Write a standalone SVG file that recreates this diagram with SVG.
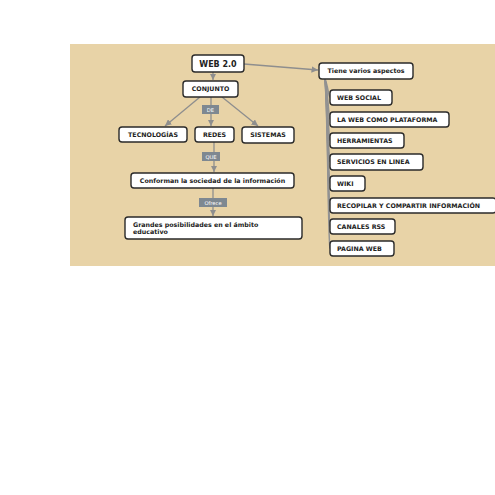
<svg xmlns="http://www.w3.org/2000/svg" width="495" height="495" viewBox="0 0 495 495">
<style>
.bg{fill:#e8d3a7}
.box{fill:#ffffff;stroke:#2a2a2a;stroke-width:1.4}
.t{font-family:"DejaVu Sans",Verdana,sans-serif;font-weight:bold;font-size:6.3px;fill:#222}
.big{font-size:8px}
.lbl{fill:#7e8891}
.lt{font-family:"DejaVu Sans",Verdana,sans-serif;font-size:5.2px;fill:#ffffff}
.c{fill:none;stroke:#8e8e8e;stroke-width:1.3}
.v{fill:none;stroke:#929292;stroke-width:1.5}
</style>
<defs>
<marker id="ah" viewBox="0 0 10 10" refX="10" refY="5" markerWidth="5" markerHeight="5" orient="auto">
<path d="M0,0 L10,5 L0,10 z" fill="#8e8e8e"/>
</marker>
</defs>
<rect class="bg" x="70" y="44" width="425" height="222"/>
<g id="connectors">
<line class="c" x1="244" y1="64" x2="318" y2="70" marker-end="url(#ah)"/>
<line class="c" x1="213" y1="72" x2="213" y2="80" marker-end="url(#ah)"/>
<line class="c" x1="200" y1="97" x2="165" y2="126" marker-end="url(#ah)"/>
<line class="c" x1="211" y1="97" x2="211" y2="126" marker-end="url(#ah)"/>
<line class="c" x1="222" y1="97" x2="258" y2="126" marker-end="url(#ah)"/>
<line class="c" x1="214" y1="142" x2="214" y2="172" marker-end="url(#ah)"/>
<line class="c" x1="213" y1="188" x2="213" y2="216" marker-end="url(#ah)"/>
<path class="v" d="M325,79 C328,86 328,94 330,97.5"/>
<path class="v" d="M325,79 C328,90 328,112 330,119.5"/>
<path class="v" d="M325,79 C328,95 328,133 330,140.5"/>
<path class="v" d="M325,79 C328,100 328,155 330,162"/>
<path class="v" d="M325,79 C328,105 328,176 330,183.5"/>
<path class="v" d="M325,79 C328,110 328,198 330,205.5"/>
<path class="v" d="M325,79 C328,115 328,219 330,226.5"/>
<path class="v" d="M325,79 C328,120 328,241 330,248.5"/>
</g>
<g id="web20"><rect class="box" x="192" y="55" width="52" height="17" rx="3"/><text class="t big" x="218" y="66.5" text-anchor="middle">WEB 2.0</text></g>
<g id="conjunto"><rect class="box" x="183" y="81" width="55" height="16" rx="3"/><text class="t" x="210.5" y="91.3" text-anchor="middle">CONJUNTO</text></g>
<g id="lbl-de"><rect class="lbl" x="202" y="105" width="17" height="9"/><text class="lt" x="210.5" y="111.5" text-anchor="middle">DE</text></g>
<g id="tecnologias"><rect class="box" x="119" y="127" width="68" height="15" rx="3"/><text class="t" x="153" y="136.8" text-anchor="middle">TECNOLOGÍAS</text></g>
<g id="redes"><rect class="box" x="195" y="127" width="39" height="15" rx="3"/><text class="t" x="214.5" y="136.8" text-anchor="middle">REDES</text></g>
<g id="sistemas"><rect class="box" x="242" y="127" width="52" height="16" rx="3"/><text class="t" x="268" y="137.3" text-anchor="middle">SISTEMAS</text></g>
<g id="lbl-que"><rect class="lbl" x="202" y="152" width="18" height="9"/><text class="lt" x="211" y="158.5" text-anchor="middle">QUE</text></g>
<g id="conforman"><rect class="box" x="131" y="173" width="163" height="15" rx="3"/><text class="t" x="212.5" y="182.8" text-anchor="middle">Conforman la sociedad de la información</text></g>
<g id="lbl-ofrece"><rect class="lbl" x="199" y="198" width="28" height="9"/><text class="lt" x="213" y="204.5" text-anchor="middle">Ofrece</text></g>
<g id="grandes"><rect class="box" x="125" y="217" width="177" height="22" rx="3"/><text class="t" x="133" y="226.5">Grandes posibilidades en el ámbito</text><text class="t" x="133" y="234">educativo</text></g>
<g id="tiene"><rect class="box" x="319" y="63" width="94" height="16" rx="3"/><text class="t" x="366" y="73.3" text-anchor="middle">Tiene varios aspectos</text></g>
<g id="websocial"><rect class="box" x="330" y="90" width="62" height="15" rx="3"/><text class="t" x="337" y="99.8">WEB SOCIAL</text></g>
<g id="plataforma"><rect class="box" x="330" y="112" width="119" height="15" rx="3"/><text class="t" x="337" y="121.8">LA WEB COMO PLATAFORMA</text></g>
<g id="herramientas"><rect class="box" x="330" y="133" width="74" height="15" rx="3"/><text class="t" x="337" y="142.8">HERRAMIENTAS</text></g>
<g id="servicios"><rect class="box" x="330" y="154" width="93" height="16" rx="3"/><text class="t" x="337" y="164.3">SERVICIOS EN LINEA</text></g>
<g id="wiki"><rect class="box" x="330" y="176" width="35" height="15" rx="3"/><text class="t" x="337" y="185.8">WIKI</text></g>
<g id="recopilar"><rect class="box" x="330" y="198" width="166" height="15" rx="3"/><text class="t" x="337" y="207.8">RECOPILAR Y COMPARTIR INFORMACIÓN</text></g>
<g id="rss"><rect class="box" x="330" y="219" width="65" height="15" rx="3"/><text class="t" x="337" y="228.8">CANALES RSS</text></g>
<g id="paginaweb"><rect class="box" x="330" y="241" width="64" height="15" rx="3"/><text class="t" x="337" y="250.8">PAGINA WEB</text></g>
</svg>
